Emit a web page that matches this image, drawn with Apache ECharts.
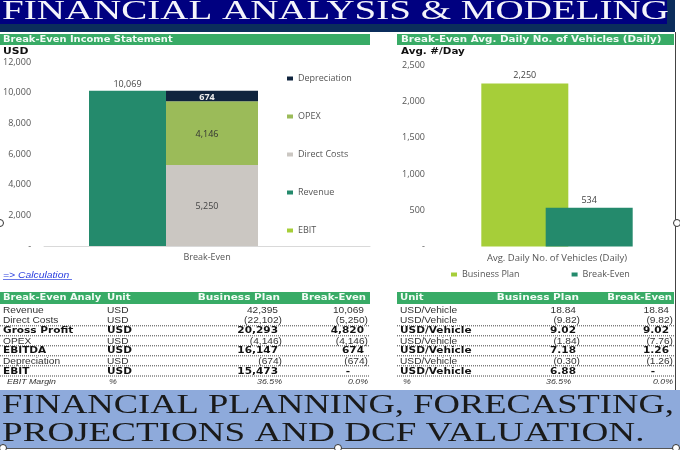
<!DOCTYPE html>
<html>
<head>
<meta charset="utf-8">
<style>html,body{margin:0;padding:0;background:#fff}#main{width:680px;height:450px}</style>
<script src="https://cdn.jsdelivr.net/npm/echarts@6/dist/echarts.min.js"></script>
</head>
<body>
<div id="main"></div>
<script>
// left chart
var incomeCategory = ['Break-Even'];
var revenue = [10069];
var directCosts = [5250];
var opex = [4146];
var depreciation = [674];
var ebit = [0];
var incomeLegend = ['Depreciation', 'OPEX', 'Direct Costs', 'Revenue', 'EBIT'];

// right chart
var vehicleCategory = ['Avg. Daily No. of Vehicles (Daily)'];
var vehiclePlan = [2250];
var vehicleBreakEven = [534];
var vehicleLegend = ['Business Plan', 'Break-Even'];

// tables
var tableHeadLeft = ['Break-Even Analy', 'Unit', 'Business Plan', 'Break-Even'];
var tableHeadRight = ['Unit', 'Business Plan', 'Break-Even'];
var rowLabels = ['Revenue', 'Direct Costs', 'Gross Profit', 'OPEX', 'EBITDA', 'Depreciation', 'EBIT', 'EBIT Margin'];
var rowUnits = ['USD', 'USD', 'USD', 'USD', 'USD', 'USD', 'USD', '%'];
var rowPlan = ['42,395', '(22,102)', '20,293', '(4,146)', '16,147', '(674)', '15,473', '36.5%'];
var rowBreakEven = ['10,069', '(5,250)', '4,820', '(4,146)', '674', '(674)', '-', '0.0%'];
var rowUnitsRight = ['USD/Vehicle', 'USD/Vehicle', 'USD/Vehicle', 'USD/Vehicle', 'USD/Vehicle', 'USD/Vehicle', 'USD/Vehicle', '%'];
var rowPlanRight = ['18.84', '(9.82)', '9.02', '(1.84)', '7.18', '(0.30)', '6.88', '36.5%'];
var rowBreakEvenRight = ['18.84', '(9.82)', '9.02', '(7.76)', '1.26', '(1.26)', '-', '0.0%'];
var boldRows = [2, 4, 6];

var chartFont = '"Open Sans"';
var tableFont = '"Liberation Sans"';

function thousands(v) {
    return v === 0 ? '-' : v.toLocaleString('en-US');
}

function txt(text, x, y, font, fill, align, scaleX) {
    return {
        type: 'text', x: x, y: y, scaleX: scaleX || 1, z: 20,
        style: { text: text, x: 0, y: 0, font: font, fill: fill, align: align || 'left', verticalAlign: 'middle' }
    };
}
function box(x, y, w, h, fill) {
    return { type: 'rect', z: 10, shape: { x: x, y: y, width: w, height: h }, style: { fill: fill } };
}
function handle(x, y) {
    return { type: 'circle', z: 30, shape: { cx: x, cy: y, r: 3.5 }, style: { fill: '#fff', stroke: '#333', lineWidth: 1 } };
}
// accounting format: plain numbers sit 4px left of the closing bracket, the dash further left
function numX(text, right) {
    if (text === '-') return right - 18;
    return text.charAt(0) === '(' || text.indexOf('%') > 0 ? right : right - 4;
}

var rowY = [310.8, 321, 331, 341.2, 351, 361.5, 371.3, 381.8];
var ruleY = [325.8, 335.8, 345.8, 355.8, 365.8, 376];
var headFont = 'bold 9px "DejaVu Sans"';
var headFill = '#f2fbf5';
var gfx = [];

// banners
gfx.push(box(0, 0, 675, 32, '#0b2d5c'));
gfx.push(box(0, 0, 667, 24, '#000080'));
gfx.push(txt('FINANCIAL ANALYSIS & MODELING', 2, 11.5, '27px "Liberation Serif"', '#f4f4fa', 'left', 1.445));
gfx.push(box(0, 390, 680, 58, '#8eaadb'));
gfx.push(txt('FINANCIAL PLANNING, FORECASTING,', 2, 405.5, '28px "Liberation Serif"', '#1a1a1a', 'left', 1.305));
gfx.push(txt('PROJECTIONS AND DCF VALUATION.', 2, 433.5, '28px "Liberation Serif"', '#1a1a1a', 'left', 1.325));

// section headers
gfx.push(box(0, 34, 370, 11, '#38ab66'));
gfx.push(box(397, 34, 277, 11, '#38ab66'));
gfx.push(txt('Break-Even Income Statement', 3, 39.5, headFont, headFill, 'left', 1.1));
gfx.push(txt('Break-Even Avg. Daily No. of Vehicles (Daily)', 401, 39.5, headFont, headFill, 'left', 1.145));
gfx.push(txt('USD', 3, 51.5, headFont, '#111', 'left', 1.2));
gfx.push(txt('Avg. #/Day', 401, 51.5, headFont, '#111', 'left', 1.15));

// link
gfx.push(txt('=> Calculation', 3, 275, 'italic 9px ' + tableFont, '#2a3fe0', 'left', 1.15));
gfx.push({ type: 'line', z: 20, shape: { x1: 3, y1: 279.5, x2: 72, y2: 279.5 }, style: { stroke: '#2a3fe0', lineWidth: 0.7 } });

// table heads
gfx.push(box(0, 292, 370, 12, '#38ab66'));
gfx.push(box(397, 292, 277, 12, '#38ab66'));
gfx.push(txt(tableHeadLeft[0], 3, 298, headFont, headFill, 'left', 1.1));
gfx.push(txt(tableHeadLeft[1], 107, 298, headFont, headFill, 'left', 1.12));
gfx.push(txt(tableHeadLeft[2], 280, 298, headFont, headFill, 'right', 1.17));
gfx.push(txt(tableHeadLeft[3], 366, 298, headFont, headFill, 'right', 1.12));
gfx.push(txt(tableHeadRight[0], 400, 298, headFont, headFill, 'left', 1.12));
gfx.push(txt(tableHeadRight[1], 579, 298, headFont, headFill, 'right', 1.17));
gfx.push(txt(tableHeadRight[2], 672, 298, headFont, headFill, 'right', 1.12));

// table rows
rowLabels.forEach(function (label, i) {
    var bold = boldRows.indexOf(i) >= 0;
    var last = i === rowLabels.length - 1;
    var font = last ? 'italic 8px ' + tableFont : bold ? 'bold 9px "DejaVu Sans"' : '9px ' + tableFont;
    var color = bold ? '#111' : '#333';
    var sx = last ? 1.1 : bold ? 1.17 : 1.13;
    var y = rowY[i];
    gfx.push(txt(label, last ? 7 : 3, y, font, color, 'left', sx));
    gfx.push(txt(rowUnits[i], last ? 109 : 107, y, font, color, 'left', sx));
    gfx.push(txt(rowPlan[i], numX(rowPlan[i], 282), y, font, color, 'right', sx));
    gfx.push(txt(rowBreakEven[i], numX(rowBreakEven[i], 368), y, font, color, 'right', sx));
    gfx.push(txt(rowUnitsRight[i], last ? 403 : 400, y, font, color, 'left', sx));
    gfx.push(txt(rowPlanRight[i], numX(rowPlanRight[i], last ? 571 : 580), y, font, color, 'right', sx));
    gfx.push(txt(rowBreakEvenRight[i], numX(rowBreakEvenRight[i], 673), y, font, color, 'right', sx));
});
ruleY.forEach(function (y) {
    [[0, 370], [397, 674]].forEach(function (span) {
        gfx.push({
            type: 'line', z: 15, shape: { x1: span[0], y1: y, x2: span[1], y2: y },
            style: { stroke: '#444', lineWidth: 1, lineDash: [1, 1] }
        });
    });
});

// picture frame + selection handles
gfx.push({ type: 'line', z: 25, shape: { x1: 675.5, y1: 32, x2: 675.5, y2: 390 }, style: { stroke: '#444', lineWidth: 1 } });
gfx.push({ type: 'line', z: 25, shape: { x1: 3, y1: 448.5, x2: 676, y2: 448.5 }, style: { stroke: '#555', lineWidth: 1 } });
gfx.push(handle(0, 223), handle(677, 223), handle(338, 448), handle(3, 448), handle(676, 448));

function barLabel(position, color, extra) {
    var l = { show: true, position: position, formatter: function (p) { return thousands(p.value); }, fontFamily: chartFont, fontSize: 9, color: color };
    for (var k in extra) l[k] = extra[k];
    return l;
}

var option = {
    animation: false,
    textStyle: { fontFamily: chartFont },
    graphic: gfx,
    legend: [
        {
            data: incomeLegend, orient: 'vertical', left: 282, top: 69, itemWidth: 6, itemHeight: 4,
            itemGap: 29, icon: 'rect', selectedMode: false,
            textStyle: { fontFamily: chartFont, fontSize: 9, color: '#555' }
        },
        {
            data: vehicleLegend, orient: 'horizontal', left: 446, top: 265, itemWidth: 6, itemHeight: 4,
            itemGap: 52, icon: 'rect', selectedMode: false,
            textStyle: { fontFamily: chartFont, fontSize: 9, color: '#555' }
        }
    ],
    grid: [
        { left: 40, width: 330, top: 62, height: 184 },   // axes of the left chart
        { left: 89, width: 169, top: 61, height: 185 },   // bars of the left chart
        { left: 440, width: 234, top: 65.3, height: 181.3 }
    ],
    xAxis: [
        {
            gridIndex: 0, type: 'category', data: incomeCategory,
            axisTick: { show: false }, axisLine: { lineStyle: { color: '#d9d9d9' } },
            axisLabel: { fontFamily: chartFont, fontSize: 9, color: '#555', margin: 7 }
        },
        { gridIndex: 1, type: 'category', data: incomeCategory, show: false },
        {
            gridIndex: 2, type: 'category', data: vehicleCategory,
            axisTick: { show: false }, axisLine: { show: false },
            axisLabel: { fontFamily: chartFont, fontSize: 9.5, color: '#555', margin: 7 }
        }
    ],
    yAxis: [
        {
            gridIndex: 0, type: 'value', min: 0, max: 12000, interval: 2000,
            axisLine: { show: false }, axisTick: { show: false }, splitLine: { show: false },
            axisLabel: { fontFamily: chartFont, fontSize: 9, color: '#555', margin: 13, formatter: thousands }
        },
        { gridIndex: 1, type: 'value', min: 0, max: 12000, interval: 2000, show: false, splitLine: { show: false } },
        {
            gridIndex: 2, type: 'value', min: 0, max: 2500, interval: 500,
            axisLine: { show: false }, axisTick: { show: false }, splitLine: { show: false },
            axisLabel: { fontFamily: chartFont, fontSize: 9, color: '#555', margin: 15, formatter: thousands }
        }
    ],
    series: [
        {
            name: 'Revenue', type: 'bar', xAxisIndex: 1, yAxisIndex: 1, stack: 'rev', barWidth: 77, barGap: 0,
            data: revenue, itemStyle: { color: '#248a6c' },
            label: barLabel('top', '#444', { distance: 2 })
        },
        {
            name: 'Direct Costs', type: 'bar', xAxisIndex: 1, yAxisIndex: 1, stack: 'cost', barWidth: 92, barGap: 0,
            data: directCosts, itemStyle: { color: '#cbc7c2' },
            label: barLabel('inside', '#444', { offset: [-5, 1] })
        },
        {
            name: 'OPEX', type: 'bar', xAxisIndex: 1, yAxisIndex: 1, stack: 'cost', barWidth: 92, barGap: 0,
            data: opex, itemStyle: { color: '#9bbb59' },
            label: barLabel('inside', '#333', { offset: [-5, 1] })
        },
        {
            name: 'Depreciation', type: 'bar', xAxisIndex: 1, yAxisIndex: 1, stack: 'cost', barWidth: 92, barGap: 0,
            data: depreciation, itemStyle: { color: '#10243e' },
            label: barLabel('inside', '#eee', { offset: [-5, 1], fontWeight: 'bold' })
        },
        {
            name: 'EBIT', type: 'bar', xAxisIndex: 1, yAxisIndex: 1, stack: 'cost', barWidth: 92, barGap: 0,
            data: ebit, itemStyle: { color: '#a6ce39' }
        },
        {
            name: 'Business Plan', type: 'bar', xAxisIndex: 2, yAxisIndex: 2, barWidth: 87, barGap: '-26%',
            data: vehiclePlan, itemStyle: { color: '#a6ce39' },
            label: barLabel('top', '#444', { distance: 3 })
        },
        {
            name: 'Break-Even', type: 'bar', xAxisIndex: 2, yAxisIndex: 2, barWidth: 87, barGap: '-26%',
            data: vehicleBreakEven, itemStyle: { color: '#248a6c' },
            label: barLabel('top', '#444', { distance: 3 })
        }
    ]
};

var myChart = echarts.init(document.getElementById('main'));
myChart.setOption(option);
</script>
</body>
</html>
